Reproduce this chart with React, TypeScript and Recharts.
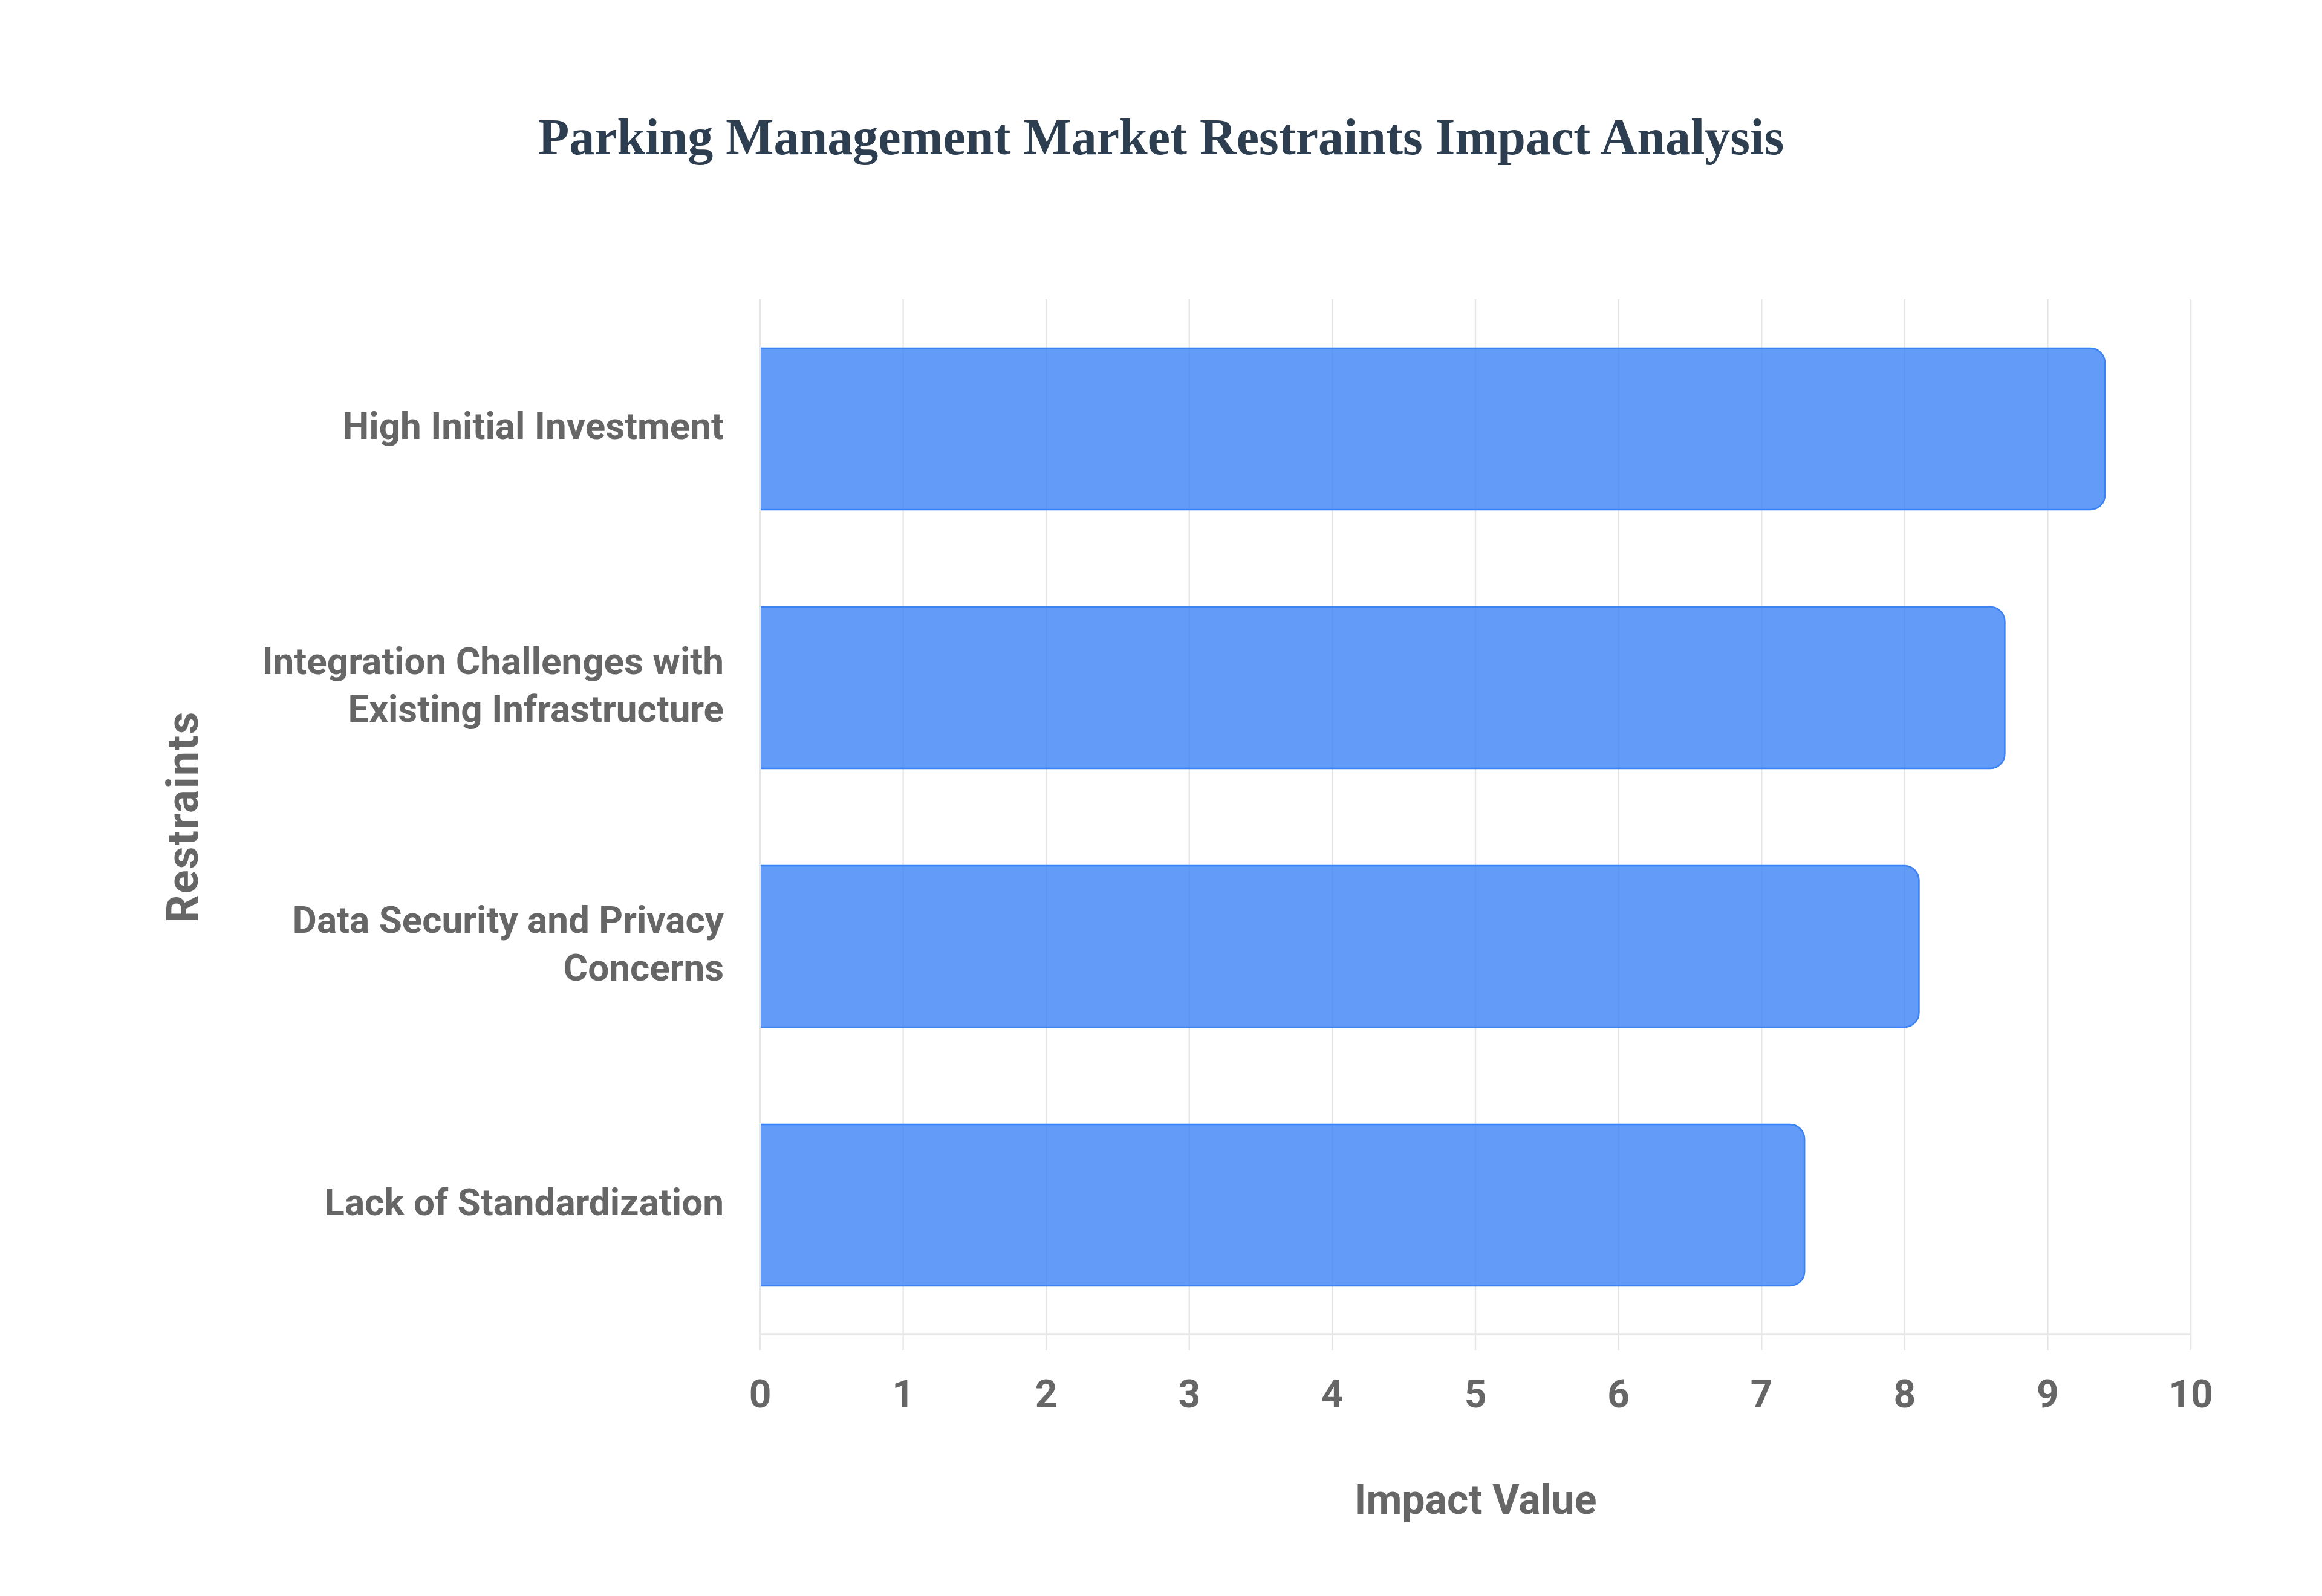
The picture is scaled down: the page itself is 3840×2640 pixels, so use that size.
import { Bar, BarChart, CartesianGrid, Label, XAxis, YAxis } from "recharts";

const restraints = [
  "High Initial Investment",
  "Integration Challenges with Existing Infrastructure",
  "Data Security and Privacy Concerns",
  "Lack of Standardization",
];
// how each category label is broken over lines on the axis
const restraintLines = [
  ["High Initial Investment"],
  ["Integration Challenges with", "Existing Infrastructure"],
  ["Data Security and Privacy", "Concerns"],
  ["Lack of Standardization"],
];
const impactValues = [9.4, 8.7, 8.1, 7.3];
const impactTicks = [0, 1, 2, 3, 4, 5, 6, 7, 8, 9, 10];

const data = restraints.map((r, i) => ({ restraint: r, impact: impactValues[i] }));

const SANS = "Roboto, 'Liberation Sans', Arial, sans-serif";
const GRID = "#e6e6e6";
const MUTED = "#666666";

function RestraintTick({ x, y, payload }: any) {
  const idx = restraints.indexOf(payload.value);
  const lines = restraintLines[idx] ?? [payload.value];
  const lineH = 79;
  const first = y + 17 - ((lines.length - 1) * lineH) / 2;
  return (
    <text
      x={x}
      y={first}
      textAnchor="end"
      fill={MUTED}
      fontSize={62}
      fontWeight={700}
      fontFamily={SANS}
    >
      {lines.map((l, i) => (
        <tspan key={i} x={x} dy={i === 0 ? 0 : lineH}>
          {l}
        </tspan>
      ))}
    </text>
  );
}

function ImpactTick({ x, y, payload }: any) {
  // y is the tick end + margin; put the cap top there
  return (
    <text
      x={x}
      y={y + 46}
      textAnchor="middle"
      fill={MUTED}
      fontSize={64}
      fontWeight={700}
      fontFamily={SANS}
    >
      {payload.value}
    </text>
  );
}

export default function App() {
  return (
    <div style={{ position: "relative", width: 3840, height: 2640, background: "#fff" }}>
      <style>{`body{margin:0}`}</style>
      <div
        style={{
          position: "absolute",
          top: 185,
          left: 0,
          width: 3840,
          textAlign: "center",
          fontFamily: "'Liberation Serif', 'Times New Roman', serif",
          fontWeight: 700,
          fontSize: 84,
          lineHeight: 1,
          color: "#2c3e50",
        }}
      >
        Parking Management Market Restraints Impact Analysis
      </div>
      <BarChart
        width={3840}
        height={2640}
        data={data}
        layout="vertical"
        margin={{ top: 495, right: 217, left: 0, bottom: 0 }}
        barSize={267}
      >
        <CartesianGrid horizontal={false} stroke={GRID} strokeWidth={2.5} />
        <XAxis
          type="number"
          domain={[0, 10]}
          ticks={impactTicks}
          height={433}
          tickSize={26}
          tickMargin={49}
          tickLine={{ stroke: GRID, strokeWidth: 2.5 }}
          axisLine={{ stroke: GRID, strokeWidth: 3.5 }}
          tick={<ImpactTick />}
        >
          <Label
            value="Impact Value"
            position="insideBottom"
            offset={136}
            fill={MUTED}
            fontSize={68}
            fontWeight={700}
            fontFamily={SANS}
          />
        </XAxis>
        <YAxis
          type="category"
          dataKey="restraint"
          width={1257}
          tickSize={0}
          tickMargin={60}
          tickLine={false}
          axisLine={{ stroke: GRID, strokeWidth: 2.5 }}
          tick={<RestraintTick />}
        >
          <Label
            content={({ viewBox }: any) => {
              const cx = 327;
              const cy = viewBox.y + viewBox.height / 2;
              return (
                <text
                  x={cx}
                  y={cy}
                  textAnchor="middle"
                  transform={`rotate(-90, ${cx}, ${cy})`}
                  fill={MUTED}
                  fontSize={72}
                  fontWeight={700}
                  letterSpacing={2}
                  fontFamily={SANS}
                >
                  Restraints
                </text>
              );
            }}
          />
        </YAxis>
        <Bar
          dataKey="impact"
          fill="rgba(59,130,246,0.8)"
          stroke="#3b82f6"
          strokeWidth={2.5}
          radius={[0, 24, 24, 0]}
          isAnimationActive={false}
        />
      </BarChart>
    </div>
  );
}
